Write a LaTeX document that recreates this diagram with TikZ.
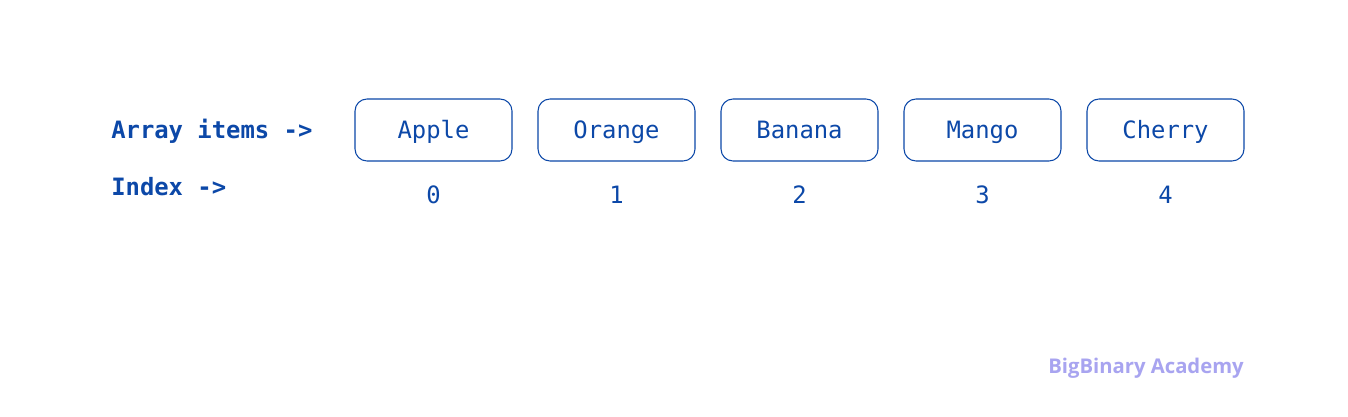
\documentclass[tikz,border=0pt]{standalone}
\usepackage{fontspec}
\setmonofont{DejaVu Sans Mono}
\newfontfamily\brandfont{Open Sans}
\definecolor{arrblue}{RGB}{12,72,168}
\definecolor{brandlav}{RGB}{168,164,240}
\tikzset{
  itembox/.style={draw=arrblue,line width=0.8pt,rounded corners=9pt,minimum width=117.75pt,minimum height=46.5pt,inner sep=0pt,text height=14.5pt,text depth=2pt,text=arrblue,font=\ttfamily\fontsize{17.9}{20}\selectfont},
  idxlabel/.style={text=arrblue,inner sep=0pt,text height=14.5pt,text depth=2pt,font=\ttfamily\fontsize{17.9}{20}\selectfont},
  rowlabel/.style={anchor=west,text=arrblue,inner sep=0pt,text height=14.5pt,text depth=2pt,font=\ttfamily\bfseries\fontsize{17.9}{20}\selectfont}
}
\begin{document}
\begin{tikzpicture}[x=0.75pt,y=-0.75pt]
 \useasboundingbox[fill=white](0,0) rectangle (1348,417);
 \node[rowlabel] (itemslbl) at (111,130) {Array items ->};
 \node[rowlabel] (indexlbl) at (111,187) {Index ->};
 \node[itembox] (apple) at (433.5,130) {Apple};
 \node[itembox] (orange) at (616.5,130) {Orange};
 \node[itembox] (banana) at (799.5,130) {Banana};
 \node[itembox] (mango) at (982.5,130) {Mango};
 \node[itembox] (cherry) at (1165.5,130) {Cherry};
 \node[idxlabel] (idx0) at (433.5,195) {0};
 \node[idxlabel] (idx1) at (616.5,195) {1};
 \node[idxlabel] (idx2) at (799.5,195) {2};
 \node[idxlabel] (idx3) at (982.5,195) {3};
 \node[idxlabel] (idx4) at (1165.5,195) {4};
 \node[anchor=east,inner sep=0pt,text=brandlav,font=\brandfont\bfseries\fontsize{15.2}{17}\selectfont] (brand) at (1244,368) {BigBinary Academy};
\end{tikzpicture}
\end{document}
